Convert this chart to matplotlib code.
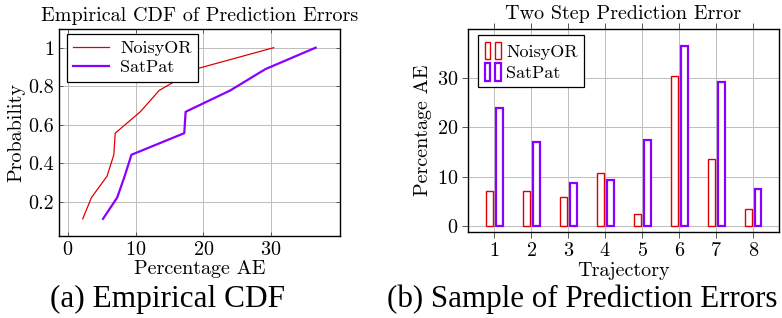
import matplotlib

matplotlib.use("Agg")
import matplotlib.pyplot as plt
from matplotlib.legend_handler import HandlerTuple
from matplotlib.patches import Rectangle

# CDF data (9 trajectories each)
cdf_prob = [0.111, 0.222, 0.333, 0.444, 0.556, 0.667, 0.778, 0.889, 1.0]
cdf_noisyor = [2.2, 3.5, 5.8, 6.8, 7.0, 10.7, 13.5, 18.9, 30.4]
cdf_satpat = [5.2, 7.3, 8.4, 9.4, 17.2, 17.4, 24.0, 29.2, 36.6]

# Two step prediction error per trajectory
trajectories = [1, 2, 3, 4, 5, 6, 7, 8]
bar_noisyor = [7.0, 7.0, 5.8, 10.7, 2.3, 30.4, 13.5, 3.5]
bar_satpat = [23.9, 17.1, 8.6, 9.4, 17.5, 36.5, 29.2, 7.4]

RED = "#e00000"
VIOLET = "#8a00ff"
GRID = "#bdbdbd"

plt.rcParams["font.family"] = "cmr10"
plt.rcParams["mathtext.fontset"] = "cm"
plt.rcParams["axes.formatter.use_mathtext"] = True
FS = 14.5
LFS = 13

fig = plt.figure(figsize=(7.82, 3.18), dpi=100)

# ---- (a) Empirical CDF
ax1 = fig.add_axes([59 / 782, 1 - 236 / 318, 281 / 782, 207 / 318])
ax1.plot(cdf_noisyor, cdf_prob, color=RED, lw=0.9, label="NoisyOR")
ax1.plot(cdf_satpat, cdf_prob, color=VIOLET, lw=1.6, label="SatPat")
ax1.set_xlim(-1.3, 40.2)
ax1.set_ylim(0.022, 1.097)
ax1.set_xticks([0, 10, 20, 30])
ax1.set_yticks([0.2, 0.4, 0.6, 0.8, 1.0])
ax1.set_yticklabels(["0.2", "0.4", "0.6", "0.8", "1"])
ax1.grid(True, color=GRID, lw=0.7)
ax1.set_axisbelow(True)
ax1.tick_params(direction="in", length=3, top=True, right=True, labelsize=FS,
                width=0.7, color="#555555")
ax1.set_title("Empirical CDF of Prediction Errors", fontsize=FS, pad=6)
ax1.set_xlabel("Percentage AE", fontsize=FS, labelpad=1)
ax1.set_ylabel("Probability", fontsize=FS, labelpad=2)
leg1 = ax1.legend(loc="upper left", bbox_to_anchor=(0.028, 0.975), fontsize=LFS,
                  fancybox=False, edgecolor="black", framealpha=1, handlelength=2.0,
                  borderpad=0.35, labelspacing=0.2, handletextpad=0.6,
                  borderaxespad=0)
leg1.get_frame().set_linewidth(0.9)

# ---- (b) Sample of prediction errors
ax2 = fig.add_axes([468.3 / 782, 1 - 231.7 / 318, 310.4 / 782, 202.7 / 318])
w = 0.18
off = 0.135
ax2.bar([t - off for t in trajectories], bar_noisyor, w, facecolor="white",
        edgecolor=RED, lw=1.0)
ax2.bar([t + off for t in trajectories], bar_satpat, w, facecolor="white",
        edgecolor=VIOLET, lw=1.6)
ax2.set_xlim(0.3, 8.69)
ax2.set_ylim(-1.2, 40.0)
ax2.set_xticks(trajectories)
ax2.set_yticks([0, 10, 20, 30])
ax2.grid(True, color=GRID, lw=0.7)
ax2.set_axisbelow(True)
ax2.tick_params(direction="out", length=4, top=True, labelsize=FS, width=0.7,
                color="#555555")
ax2.set_title("Two Step Prediction Error", fontsize=FS, pad=7)
ax2.set_xlabel("Trajectory", fontsize=FS, labelpad=1)
ax2.set_ylabel("Percentage AE", fontsize=FS, labelpad=3)

h_noisy = (Rectangle((0, 0), 1, 1, facecolor="white", edgecolor=RED, lw=1.0),
           Rectangle((0, 0), 1, 1, facecolor="white", edgecolor=RED, lw=1.0))
h_sat = (Rectangle((0, 0), 1, 1, facecolor="white", edgecolor=VIOLET, lw=1.6),
         Rectangle((0, 0), 1, 1, facecolor="white", edgecolor=VIOLET, lw=1.6))
leg2 = ax2.legend([h_noisy, h_sat], ["NoisyOR", "SatPat"], loc="upper left",
                  bbox_to_anchor=(0.032, 0.968), fontsize=LFS,
                  handler_map={tuple: HandlerTuple(ndivide=None, pad=0.25)},
                  fancybox=False, edgecolor="black", framealpha=1,
                  handlelength=0.9, handleheight=1.1, borderpad=0.35,
                  labelspacing=0.2, handletextpad=0.3, borderaxespad=0)
leg2.get_frame().set_linewidth(0.9)

for ax in (ax1, ax2):
    for sp in ax.spines.values():
        sp.set_linewidth(1.0)

# sub-figure captions
fig.text(168 / 782, 1 - 307 / 318, "(a) Empirical CDF", fontsize=22.5,
         family="Liberation Serif", ha="center", va="baseline")
fig.text(582 / 782, 1 - 307 / 318, "(b) Sample of Prediction Errors", fontsize=22.3,
         family="Liberation Serif", ha="center", va="baseline")

fig.savefig("out.png", dpi=100)
